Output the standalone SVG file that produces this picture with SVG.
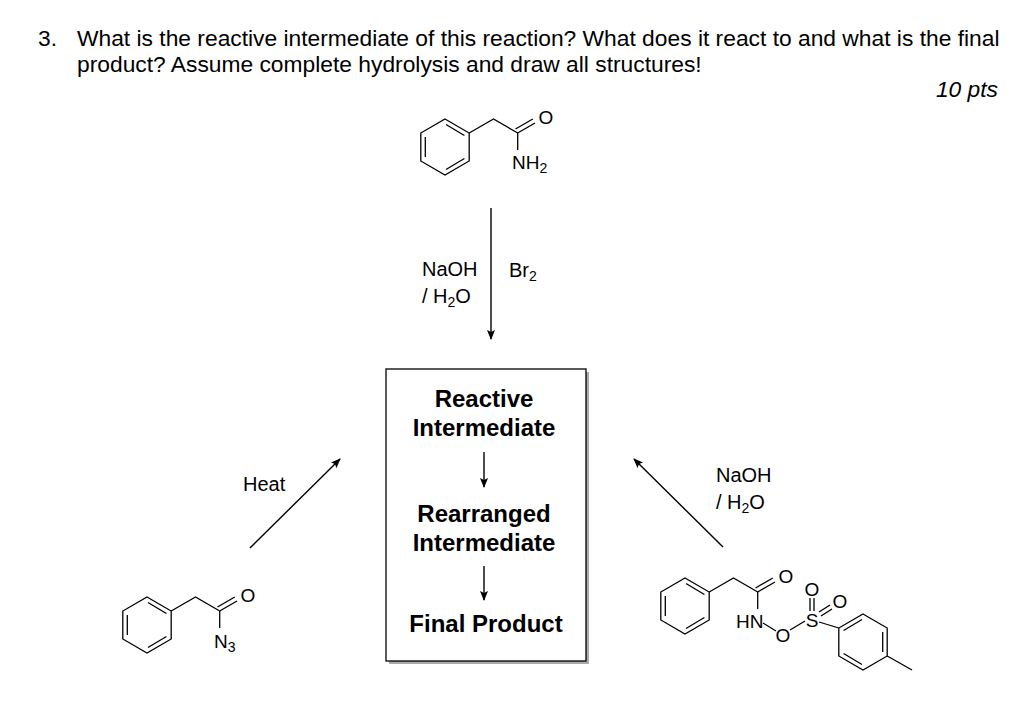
<svg xmlns="http://www.w3.org/2000/svg" width="1024" height="717" viewBox="0 0 1024 717">
<style>
text{font-family:"Liberation Sans",Arial,sans-serif;fill:#000}
.q{font-size:22.8px}
.r{font-size:20px}
.a{font-size:19px}
.b{font-size:24px;font-weight:bold;text-anchor:middle}
.bd{stroke:#000;stroke-width:1.3;fill:none}
.ar{stroke:#000;stroke-width:1.4;fill:none;marker-end:url(#h)}
</style>
<defs>
<marker id="h" markerWidth="10" markerHeight="8" refX="9" refY="4" orient="auto" markerUnits="userSpaceOnUse"><path d="M0,0 L10,4 L0,8 L2,4Z" fill="#000"/></marker>
<g id="ph" class="bd">
<polygon points="0,-28 24.2,-14 24.2,14 0,28 -24.2,14 -24.2,-14"/>
<line x1="-19.7" y1="-10" x2="-19.7" y2="10"/>
<line x1="1" y1="-22.5" x2="19.4" y2="-11.5"/>
<line x1="1" y1="22.5" x2="19.4" y2="11.5"/>
<polyline points="24.2,-14 48.5,-28 72.7,-14"/>
<line x1="72.7" y1="-14" x2="90" y2="-24"/>
<line x1="70.5" y1="-18" x2="87.8" y2="-28"/>
</g>
</defs>
<text class="q" x="38" y="46">3.</text>
<text class="q" x="77" y="46">What is the reactive intermediate of this reaction? What does it react to and what is the final</text>
<text class="q" x="77" y="72">product? Assume complete hydrolysis and draw all structures!</text>
<text class="q" x="998" y="97" text-anchor="end" font-style="italic">10 pts</text>

<g id="amide">
<use href="#ph" x="445" y="147"/>
<line class="bd" x1="517.7" y1="133" x2="517.7" y2="150"/>
<text class="a" x="546" y="124" text-anchor="middle">O</text>
<text class="a" x="512" y="169">NH<tspan font-size="14" dy="4">2</tspan></text>
</g>

<g id="azide">
<use href="#ph" x="147" y="625"/>
<line class="bd" x1="219.7" y1="611" x2="219.7" y2="628"/>
<text class="a" x="248" y="602" text-anchor="middle">O</text>
<text class="a" x="214" y="648">N<tspan font-size="14" dy="4">3</tspan></text>
</g>

<g id="tosylate">
<use href="#ph" x="685" y="606"/>
<line class="bd" x1="757.7" y1="592" x2="757.7" y2="609"/>
<text class="a" x="786" y="583" text-anchor="middle">O</text>
<text class="a" x="736" y="628">HN</text>
<line class="bd" x1="763" y1="623" x2="776" y2="631"/>
<text class="a" x="783" y="642" text-anchor="middle">O</text>
<line class="bd" x1="790" y1="630" x2="805" y2="621"/>
<text class="a" x="812" y="627" text-anchor="middle">S</text>
<line class="bd" x1="810" y1="611" x2="810" y2="598"/>
<line class="bd" x1="814" y1="611" x2="814" y2="598"/>
<text class="a" x="812" y="596" text-anchor="middle">O</text>
<line class="bd" x1="819" y1="612" x2="830" y2="605"/>
<line class="bd" x1="821" y1="616" x2="832" y2="609"/>
<text class="a" x="840" y="608" text-anchor="middle">O</text>
<line class="bd" x1="819" y1="622" x2="838.8" y2="628"/>
<g class="bd">
<polygon points="863,614 887.2,628 887.2,656 863,670 838.8,656 838.8,628"/>
<line x1="882.7" y1="632" x2="882.7" y2="652"/>
<line x1="862" y1="664.5" x2="843.6" y2="653.5"/>
<line x1="843.6" y1="630.5" x2="862" y2="619.5"/>
<line x1="887.2" y1="656" x2="912" y2="670"/>
</g>
</g>

<g id="box">
<rect x="389" y="372" width="200" height="292" fill="#aaa"/>
<rect x="386" y="369" width="200" height="292" fill="#fff" stroke="#000" stroke-width="1.3"/>
<text class="b" x="484" y="407">Reactive</text>
<text class="b" x="484" y="436">Intermediate</text>
<text class="b" x="484" y="522">Rearranged</text>
<text class="b" x="484" y="551">Intermediate</text>
<text class="b" x="486" y="632">Final Product</text>
</g>

<g id="connectors">
<line class="ar" x1="491" y1="208" x2="491" y2="339"/>
<line class="ar" x1="484" y1="452" x2="484" y2="487"/>
<line class="ar" x1="484" y1="566" x2="484" y2="600"/>
<line class="ar" x1="250" y1="548" x2="340" y2="459"/>
<line class="ar" x1="723" y1="547" x2="634" y2="459"/>
</g>
<g id="labels">
<text class="r" x="422" y="276">NaOH</text>
<text class="r" x="422" y="303">/ H<tspan font-size="14" dy="4">2</tspan><tspan dy="-4">O</tspan></text>
<text class="r" x="509" y="277">Br<tspan font-size="14" dy="4">2</tspan></text>
<text class="r" x="243" y="491">Heat</text>
<text class="r" x="716" y="482">NaOH</text>
<text class="r" x="716" y="509">/ H<tspan font-size="14" dy="4">2</tspan><tspan dy="-4">O</tspan></text>
</g>
</svg>
